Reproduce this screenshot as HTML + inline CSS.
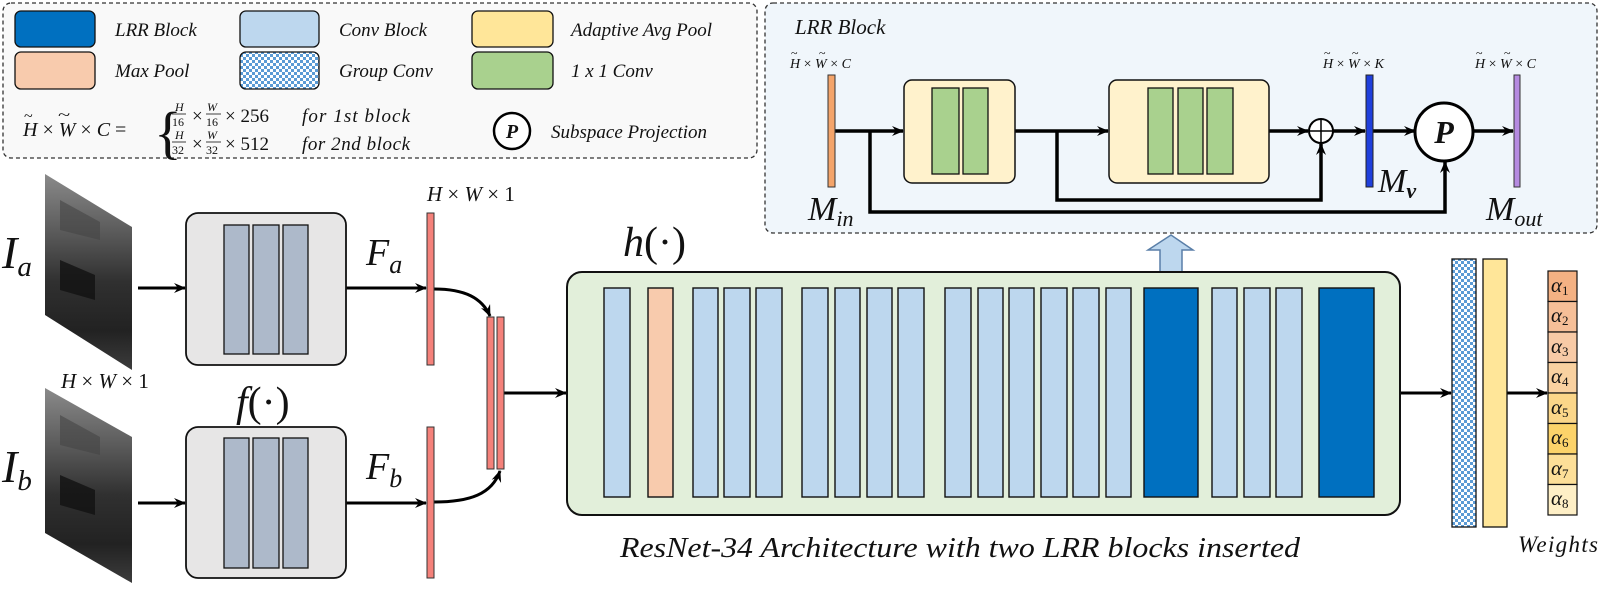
<!DOCTYPE html>
<html><head><meta charset="utf-8"><style>
html,body{margin:0;padding:0;background:#fff;}
svg{display:block;}
text{font-family:"Liberation Serif",serif;fill:#111;}
.it{font-style:italic;}
</style></head><body>
<svg width="1603" height="589" viewBox="0 0 1603 589" xmlns="http://www.w3.org/2000/svg">
<defs>
<pattern id="chk" width="6" height="6" patternUnits="userSpaceOnUse">
<rect width="6" height="6" fill="#fff"/><rect width="3" height="3" fill="#5b9bd5"/><rect x="3" y="3" width="3" height="3" fill="#5b9bd5"/>
</pattern>
<marker id="ar" viewBox="0 0 12 10" refX="11" refY="5" markerWidth="12" markerHeight="10" markerUnits="userSpaceOnUse" orient="auto">
<path d="M0,0 L12,5 L0,10 L4,5 z" fill="#000"/>
</marker>
<linearGradient id="img" x1="0" y1="0" x2="0" y2="1">
<stop offset="0" stop-color="#8a8a8a"/><stop offset="0.3" stop-color="#5a5a5a"/><stop offset="0.55" stop-color="#303030"/><stop offset="0.8" stop-color="#222"/><stop offset="1" stop-color="#3c3c3c"/>
</linearGradient>
</defs>

<!-- Legend -->
<rect x="3" y="3" width="754" height="155" rx="8" fill="#f9f9f9" stroke="#333" stroke-width="1.3" stroke-dasharray="4,3"/>
<rect x="15" y="11" width="80" height="36" rx="6" fill="#0070c0" stroke="#111" stroke-width="1.3"/>
<rect x="15" y="52" width="80" height="37" rx="6" fill="#f8cbad" stroke="#111" stroke-width="1.3"/>
<rect x="240" y="11" width="79" height="36" rx="6" fill="#bdd7ee" stroke="#111" stroke-width="1.3"/>
<rect x="240" y="52" width="79" height="37" rx="6" fill="url(#chk)" stroke="#111" stroke-width="1.3"/>
<rect x="472" y="11" width="81" height="36" rx="6" fill="#ffe699" stroke="#111" stroke-width="1.3"/>
<rect x="472" y="52" width="81" height="37" rx="6" fill="#a9d18e" stroke="#111" stroke-width="1.3"/>
<g font-size="19">
<text x="115" y="36" class="it">LRR Block</text>
<text x="115" y="77" class="it">Max Pool</text>
<text x="339" y="36" class="it">Conv Block</text>
<text x="339" y="77" class="it">Group Conv</text>
<text x="571" y="36" class="it">Adaptive Avg Pool</text>
<text x="571" y="77" class="it">1 x 1 Conv</text>
</g>
<text x="23" y="136" font-size="20"><tspan class="it">H</tspan> × <tspan class="it">W</tspan> × <tspan class="it">C</tspan> =</text>
<text x="24" y="121" font-size="16">~</text><text x="58" y="120" font-size="16" transform="translate(58,0) scale(1.4,1) translate(-58,0)">~</text>
<text x="154" y="152" font-size="58" font-weight="lighter">{</text>
<text x="175" y="111" font-size="12" class="it">H</text><text x="172" y="126" font-size="12">16</text>
<line x1="172" y1="114" x2="186" y2="114" stroke="#111" stroke-width="0.8"/>
<text x="192" y="122" font-size="19">×</text>
<text x="207" y="111" font-size="12" class="it">W</text><text x="206" y="126" font-size="12">16</text>
<line x1="206" y1="114" x2="221" y2="114" stroke="#111" stroke-width="0.8"/>
<text x="225" y="122" font-size="19">× 256</text>
<text x="175" y="139" font-size="12" class="it">H</text><text x="172" y="154" font-size="12">32</text>
<line x1="172" y1="142" x2="186" y2="142" stroke="#111" stroke-width="0.8"/>
<text x="192" y="150" font-size="19">×</text>
<text x="207" y="139" font-size="12" class="it">W</text><text x="206" y="154" font-size="12">32</text>
<line x1="206" y1="142" x2="221" y2="142" stroke="#111" stroke-width="0.8"/>
<text x="225" y="150" font-size="19">× 512</text>
<text x="302" y="122" font-size="19" class="it" textLength="108">for 1st block</text>
<text x="302" y="150" font-size="19" class="it" textLength="108">for 2nd block</text>
<circle cx="512" cy="131" r="18" fill="#fff" stroke="#000" stroke-width="2.5"/>
<text x="512" y="138" font-size="20" font-weight="bold" class="it" text-anchor="middle">P</text>
<text x="551" y="138" font-size="19" class="it">Subspace Projection</text>

<!-- LRR Block -->
<rect x="765" y="3" width="832" height="230" rx="8" fill="#f0f6fb" stroke="#333" stroke-width="1.3" stroke-dasharray="4,3"/>
<text x="795" y="34" font-size="21" class="it">LRR Block</text>
<g font-size="14">
<text x="790" y="68"><tspan class="it">H</tspan> × <tspan class="it">W</tspan> × <tspan class="it">C</tspan></text>
<text x="1323" y="68"><tspan class="it">H</tspan> × <tspan class="it">W</tspan> × <tspan class="it">K</tspan></text>
<text x="1475" y="68"><tspan class="it">H</tspan> × <tspan class="it">W</tspan> × <tspan class="it">C</tspan></text>
</g>
<g font-size="12">
<text x="791" y="57">~</text><text x="819" y="57">~</text>
<text x="1324" y="57">~</text><text x="1352" y="57">~</text>
<text x="1476" y="57">~</text><text x="1504" y="57">~</text>
</g>
<g stroke="#000" stroke-width="3.5" fill="none">
<line x1="835" y1="131" x2="903" y2="131" marker-end="url(#ar)"/>
<line x1="1015" y1="131" x2="1108" y2="131" marker-end="url(#ar)"/>
<line x1="1269" y1="131" x2="1308" y2="131" marker-end="url(#ar)"/>
<line x1="1333" y1="131" x2="1365" y2="131" marker-end="url(#ar)"/>
<line x1="1373" y1="131" x2="1415" y2="131" marker-end="url(#ar)"/>
<line x1="1472" y1="131" x2="1513" y2="131" marker-end="url(#ar)"/>
<polyline points="1057,131 1057,200 1321,200 1321,144" marker-end="url(#ar)"/>
<polyline points="870,131 870,212 1445,212 1445,162" marker-end="url(#ar)"/>
</g>
<rect x="828" y="75" width="7" height="112" fill="#f4a46a" stroke="#333" stroke-width="1"/>
<rect x="904" y="80" width="111" height="103" rx="8" fill="#fff2cc" stroke="#111" stroke-width="1.5"/>
<rect x="932" y="88" width="27" height="86" fill="#a9d18e" stroke="#111" stroke-width="1.3"/>
<rect x="963" y="88" width="25" height="86" fill="#a9d18e" stroke="#111" stroke-width="1.3"/>
<rect x="1109" y="80" width="160" height="103" rx="8" fill="#fff2cc" stroke="#111" stroke-width="1.5"/>
<rect x="1148" y="88" width="25" height="86" fill="#a9d18e" stroke="#111" stroke-width="1.3"/>
<rect x="1178" y="88" width="25" height="86" fill="#a9d18e" stroke="#111" stroke-width="1.3"/>
<rect x="1207" y="88" width="26" height="86" fill="#a9d18e" stroke="#111" stroke-width="1.3"/>
<circle cx="1321" cy="131" r="12" fill="#fff" stroke="#000" stroke-width="2"/>
<line x1="1309" y1="131" x2="1333" y2="131" stroke="#000" stroke-width="1.5"/>
<line x1="1321" y1="119" x2="1321" y2="143" stroke="#000" stroke-width="1.5"/>
<rect x="1366" y="75" width="7" height="112" fill="#1f3fdc" stroke="#222" stroke-width="1"/>
<circle cx="1444" cy="132" r="29" fill="#fff" stroke="#000" stroke-width="3"/>
<text x="1444" y="143" font-size="32" font-weight="bold" class="it" text-anchor="middle">P</text>
<rect x="1514" y="75" width="6" height="112" fill="#b58ae0" stroke="#333" stroke-width="1"/>
<text x="808" y="220" font-size="34" class="it">M<tspan font-size="22" dy="6">in</tspan></text>
<text x="1378" y="192" font-size="34" class="it">M<tspan font-size="22" dy="6" font-weight="bold">v</tspan></text>
<text x="1486" y="220" font-size="34" class="it">M<tspan font-size="22" dy="6">out</tspan></text>

<!-- up arrow -->
<polygon points="1160,272 1182,272 1182,250 1193,250 1171,235 1148,250 1160,250" fill="#bdd7ee" stroke="#5a7fa8" stroke-width="1.5"/>

<!-- images -->
<polygon points="45,174 132,227 132,370 45,315" fill="url(#img)"/>
<polygon points="60,200 100,222 100,240 60,230" fill="#444" opacity="0.6"/>
<polygon points="60,260 95,275 95,300 60,290" fill="#111" opacity="0.8"/>
<polygon points="45,388 132,437 132,583 45,533" fill="url(#img)"/>
<polygon points="60,415 100,437 100,455 60,445" fill="#444" opacity="0.6"/>
<polygon points="60,475 95,490 95,515 60,505" fill="#111" opacity="0.8"/>
<text x="2" y="268" font-size="46" class="it">I<tspan font-size="29" dy="8">a</tspan></text>
<text x="2" y="482" font-size="46" class="it">I<tspan font-size="29" dy="8">b</tspan></text>
<text x="61" y="388" font-size="21"><tspan class="it">H</tspan> × <tspan class="it">W</tspan> × 1</text>
<text x="427" y="201" font-size="21"><tspan class="it">H</tspan> × <tspan class="it">W</tspan> × 1</text>

<g stroke="#000" stroke-width="3" fill="none">
<line x1="138" y1="288" x2="185" y2="288" marker-end="url(#ar)"/>
<line x1="138" y1="503" x2="185" y2="503" marker-end="url(#ar)"/>
<line x1="346" y1="288" x2="426" y2="288" marker-end="url(#ar)"/>
<line x1="346" y1="503" x2="426" y2="503" marker-end="url(#ar)"/>
<path d="M434,289 C465,289 482,298 490,316" marker-end="url(#ar)"/>
<path d="M434,502 C470,502 492,494 500,471" marker-end="url(#ar)"/>
<line x1="504" y1="393" x2="566" y2="393" marker-end="url(#ar)"/>
<line x1="1400" y1="393" x2="1451" y2="393" marker-end="url(#ar)"/>
<line x1="1507" y1="393" x2="1547" y2="393" marker-end="url(#ar)"/>
</g>

<!-- f boxes -->
<rect x="186" y="213" width="160" height="152" rx="12" fill="#e7e6e6" stroke="#111" stroke-width="1.8"/>
<rect x="224" y="225" width="25" height="129" fill="#adb9ca" stroke="#111" stroke-width="1.3"/>
<rect x="253" y="225" width="26" height="129" fill="#adb9ca" stroke="#111" stroke-width="1.3"/>
<rect x="283" y="225" width="25" height="129" fill="#adb9ca" stroke="#111" stroke-width="1.3"/>
<rect x="186" y="427" width="160" height="151" rx="12" fill="#e7e6e6" stroke="#111" stroke-width="1.8"/>
<rect x="224" y="438" width="25" height="130" fill="#adb9ca" stroke="#111" stroke-width="1.3"/>
<rect x="253" y="438" width="26" height="130" fill="#adb9ca" stroke="#111" stroke-width="1.3"/>
<rect x="283" y="438" width="25" height="130" fill="#adb9ca" stroke="#111" stroke-width="1.3"/>
<text x="236" y="416" font-size="42" class="it">f<tspan font-style="normal">(·)</tspan></text>
<text x="366" y="265" font-size="38" class="it">F<tspan font-size="26" dy="8">a</tspan></text>
<text x="366" y="479" font-size="38" class="it">F<tspan font-size="26" dy="8">b</tspan></text>
<rect x="427" y="213" width="7" height="152" fill="#f4817a" stroke="#333" stroke-width="1"/>
<rect x="427" y="427" width="7" height="151" fill="#f4817a" stroke="#333" stroke-width="1"/>
<rect x="487" y="317" width="7" height="152" fill="#f4817a" stroke="#333" stroke-width="1"/>
<rect x="497" y="317" width="7" height="152" fill="#f4817a" stroke="#333" stroke-width="1"/>

<!-- main box -->
<text x="623" y="256" font-size="42" class="it">h<tspan font-style="normal">(·)</tspan></text>
<rect x="567" y="272" width="833" height="243" rx="15" fill="#e2efda" stroke="#111" stroke-width="2"/>
<g stroke="#111" stroke-width="1.4" fill="#bdd7ee">
<rect x="604" y="288" width="26" height="209"/>
<rect x="648" y="288" width="25" height="209" fill="#f8cbad"/>
<rect x="693" y="288" width="25" height="209"/>
<rect x="724" y="288" width="26" height="209"/>
<rect x="756" y="288" width="26" height="209"/>
<rect x="802" y="288" width="26" height="209"/>
<rect x="835" y="288" width="25" height="209"/>
<rect x="867" y="288" width="25" height="209"/>
<rect x="898" y="288" width="26" height="209"/>
<rect x="945" y="288" width="26" height="209"/>
<rect x="978" y="288" width="25" height="209"/>
<rect x="1009" y="288" width="25" height="209"/>
<rect x="1041" y="288" width="26" height="209"/>
<rect x="1073" y="288" width="26" height="209"/>
<rect x="1106" y="288" width="25" height="209"/>
<rect x="1144" y="288" width="54" height="209" fill="#0070c0"/>
<rect x="1212" y="288" width="25" height="209"/>
<rect x="1244" y="288" width="26" height="209"/>
<rect x="1276" y="288" width="26" height="209"/>
<rect x="1319" y="288" width="55" height="209" fill="#0070c0"/>
</g>
<text x="620" y="557" font-size="28" class="it" textLength="680" lengthAdjust="spacingAndGlyphs">ResNet-34 Architecture with two LRR blocks inserted</text>

<!-- right -->
<rect x="1452" y="259" width="24" height="268" fill="url(#chk)" stroke="#111" stroke-width="1.3"/>
<rect x="1483" y="259" width="24" height="268" fill="#ffe699" stroke="#111" stroke-width="1.3"/>
<g stroke="#111" stroke-width="1.2">
<rect x="1548" y="271" width="29" height="30.5" fill="#f4b183"/>
<rect x="1548" y="301.5" width="29" height="30.5" fill="#f6bf98"/>
<rect x="1548" y="332" width="29" height="30.5" fill="#f8caa6"/>
<rect x="1548" y="362.5" width="29" height="30.5" fill="#f9d1a0"/>
<rect x="1548" y="393" width="29" height="30.5" fill="#fbd689"/>
<rect x="1548" y="423.5" width="29" height="30.5" fill="#fcd36a"/>
<rect x="1548" y="454" width="29" height="30.5" fill="#fddf98"/>
<rect x="1548" y="484.5" width="29" height="30.5" fill="#feefc6"/>
</g>
<g font-size="21">
<text x="1551" y="292" class="it">α<tspan font-size="13" font-style="normal" dy="3">1</tspan></text>
<text x="1551" y="322" class="it">α<tspan font-size="13" font-style="normal" dy="3">2</tspan></text>
<text x="1551" y="353" class="it">α<tspan font-size="13" font-style="normal" dy="3">3</tspan></text>
<text x="1551" y="383" class="it">α<tspan font-size="13" font-style="normal" dy="3">4</tspan></text>
<text x="1551" y="414" class="it">α<tspan font-size="13" font-style="normal" dy="3">5</tspan></text>
<text x="1551" y="444" class="it">α<tspan font-size="13" font-style="normal" dy="3">6</tspan></text>
<text x="1551" y="475" class="it">α<tspan font-size="13" font-style="normal" dy="3">7</tspan></text>
<text x="1551" y="505" class="it">α<tspan font-size="13" font-style="normal" dy="3">8</tspan></text>
</g>
<text x="1518" y="552" font-size="23" class="it" textLength="80">Weights</text>
</svg>
</body></html>
